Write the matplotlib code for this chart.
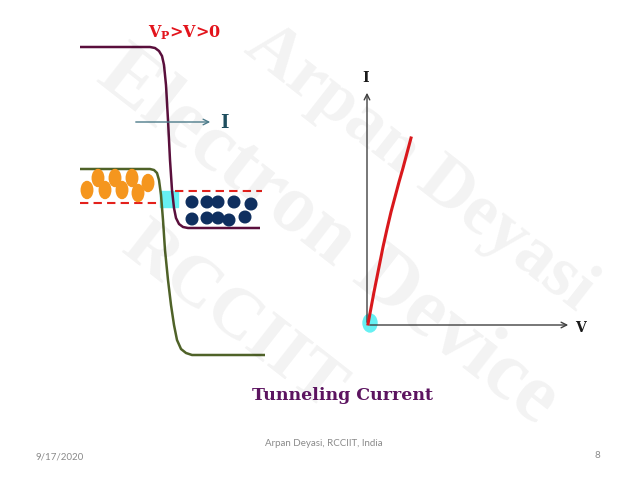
import matplotlib
matplotlib.use("Agg")
import matplotlib.pyplot as plt
from matplotlib.patches import Ellipse, Rectangle, Circle

# slide coordinates (pixels, y grows downwards)
W, H = 638, 478

# conduction band (purple) and valence band (green) profiles
cb_x = [80, 150, 155, 159, 162, 164, 166, 168, 170, 172, 174, 176, 179, 183, 188, 260]
cb_y = [47, 47, 48, 51, 56, 65, 85, 120, 160, 190, 208, 218, 224, 227, 228, 228]
vb_x = [80, 150, 154, 157, 159, 161, 163, 165, 168, 171, 174, 177, 181, 186, 192, 265]
vb_y = [169, 169, 170, 173, 180, 195, 220, 250, 280, 305, 325, 340, 349, 353, 355, 355]

# fermi levels (red dashed)
fermi_left = ([80, 160], [203, 203])
fermi_right = ([175, 262], [191, 191])

# holes (orange) and electrons (navy)
holes_x = [87, 98, 105, 115, 122, 132, 138, 148]
holes_y = [190, 178, 190, 178, 190, 178, 193, 183]
elec_x = [192, 207, 218, 234, 251, 192, 207, 218, 229, 245]
elec_y = [202, 202, 202, 202, 204, 219, 218, 218, 220, 217]

# I-V characteristic
iv_x = [368, 371, 374, 377, 380, 383, 387, 391, 395, 399, 403, 407, 411]
iv_y = [324, 308, 292, 277, 262, 247, 229, 212, 197, 182, 168, 153, 138]

fig = plt.figure(figsize=(6.38, 4.78), dpi=100)
ax = fig.add_axes([0, 0, 1, 1])
ax.set_xlim(0, W)
ax.set_ylim(H, 0)
ax.axis("off")

# faint diagonal watermark
wm = dict(color="#000000", alpha=0.05, fontweight="bold",
          family="Liberation Serif", rotation=-38, ha="center", va="center",
          rotation_mode="anchor")
ax.text(420, 168, "Arpan Deyasi", fontsize=52, **wm)
ax.text(328, 238, "Electron Device", fontsize=60, **wm)
ax.text(233, 318, "RCCIIT", fontsize=52, **wm)

# band diagram
ax.plot(cb_x, cb_y, color="#5a0f3c", lw=1.8, solid_capstyle="butt")
ax.plot(vb_x, vb_y, color="#4f6228", lw=1.8, solid_capstyle="butt")
ax.plot(*fermi_left, color="#e3211c", lw=1.5, ls=(0, (4, 2.5)))
ax.plot(*fermi_right, color="#e3211c", lw=1.5, ls=(0, (4, 2.5)))
ax.add_patch(Rectangle((160, 191), 18, 16, color="#66f0f2", zorder=1))

for x, y in zip(holes_x, holes_y):
    ax.add_patch(Ellipse((x, y), 11.5, 17, color="#f5961e", zorder=3))
for x, y in zip(elec_x, elec_y):
    ax.add_patch(Circle((x, y), 5.8, color="#0f2f5f", zorder=3))

ax.text(185, 33, r"V$_\mathregular{P}$>V>0", color="#e3141c", fontsize=11.5,
        fontweight="bold", family="DejaVu Serif", ha="center", va="center")

ax.annotate("", xy=(213, 122), xytext=(133, 122),
            arrowprops=dict(arrowstyle="->", color="#4d7b8a", lw=1.0))
ax.text(224, 123, "I", color="#1f4e5f", fontsize=13, fontweight="bold",
        family="DejaVu Serif", ha="center", va="center")

# I-V plot
ax.add_patch(Rectangle((368, 138), 44, 186, color="white", zorder=1))
ax.annotate("", xy=(367, 90), xytext=(367, 325),
            arrowprops=dict(arrowstyle="->", color="#404040", lw=1.0))
ax.annotate("", xy=(571, 325), xytext=(367, 325),
            arrowprops=dict(arrowstyle="->", color="#404040", lw=1.0))
ax.text(366, 78, "I", color="#1a1a1a", fontsize=10, fontweight="bold",
        family="DejaVu Serif", ha="center", va="center")
ax.text(580, 328, "V", color="#1a1a1a", fontsize=10, fontweight="bold",
        family="DejaVu Serif", ha="center", va="center")
ax.add_patch(Ellipse((370, 323), 14, 18, color="#66f0f2", zorder=2))
ax.plot(iv_x, iv_y, color="#d9181c", lw=2.2, zorder=3)

# title and footer
ax.text(342, 395, "Tunneling Current", color="#5c1460", fontsize=12.5,
        fontweight="bold", family="DejaVu Serif", ha="center", va="center")
ax.text(324, 443, "Arpan Deyasi, RCCIIT, India", color="#8a8a8a", fontsize=7,
        family="Lato", ha="center", va="center")
ax.text(35, 457, "9/17/2020", color="#8a8a8a", fontsize=7, family="Lato",
        ha="left", va="center")
ax.text(600, 456, "8", color="#8a8a8a", fontsize=7, family="Lato",
        ha="right", va="center")

fig.savefig("out.png", dpi=100)
